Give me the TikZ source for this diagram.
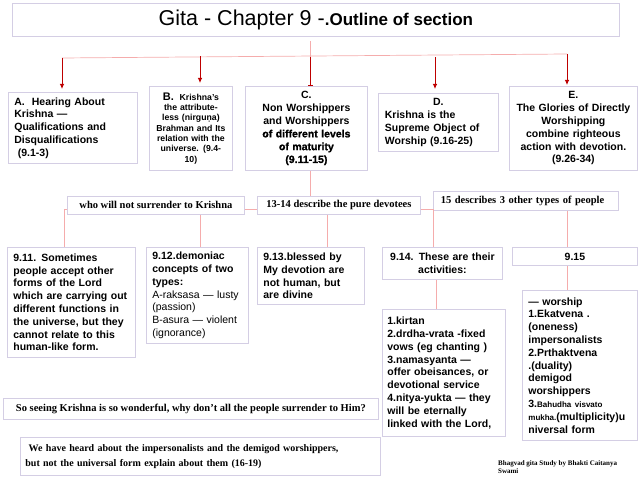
\documentclass[tikz,border=0pt]{standalone}
\usepackage{fontspec}
\setmainfont{Liberation Serif}
\setsansfont{Liberation Sans}
\newfontface\heavysans{Liberation Sans Bold}[FakeBold=1.2]
\usetikzlibrary{arrows.meta, positioning}

\definecolor{boxline}{RGB}{212,206,228}
\definecolor{linkred}{RGB}{245,172,172}
\definecolor{arrowred}{RGB}{190,0,0}

\tikzset{
  sbox/.style={draw=boxline, line width=0.8pt, fill=white, anchor=north west,
    inner xsep=6pt, inner ysep=1pt, font=\sffamily\bfseries\fontsize{10.5}{12.8}\selectfont},
  rbox/.style={draw=boxline, line width=0.8pt, fill=white, anchor=north west,
    inner xsep=6pt, inner ysep=1pt, font=\rmfamily\bfseries\fontsize{10.5}{13}\selectfont},
  link/.style={linkred, line width=0.7pt},
  pointer/.style={arrowred, line width=0.8pt, -{Latex[length=5pt,width=4.5pt]}},
}

\begin{document}
\begin{tikzpicture}[x=1pt, y=-1pt]
  \useasboundingbox (0,0) rectangle (638,478);

  % Title
  \node[sbox, font=\sffamily, minimum width=607pt, minimum height=33pt, inner sep=0pt] (title) at (12,3)
    {{\fontsize{21.5}{24}\selectfont Gita - Chapter 9 -}{\fontsize{17}{20}\selectfont\bfseries .Outline of section}};

  % First row of sections
  \node[sbox, text width=117pt, minimum height=71pt, align=left] (A) at (8,92)
    {A.\ \ Hearing About\\ Krishna —\\ Qualifications and\\ Disqualifications\\ \ (9.1-3)};
  \node[sbox, text width=73pt, minimum height=84pt, inner xsep=5pt, align=center,
    font=\sffamily\bfseries\fontsize{8.7}{10.3}\selectfont] (B) at (149,86)
    {{\fontsize{11}{12}\selectfont B.}\ \ Krishna's\\ the attribute-\\ less (nirguṇa)\\ Brahman and Its\\ relation with the\\ universe. (9.4-\\ 10)};
  \node[sbox, text width=110pt, minimum height=84pt, align=center] (C) at (245,86)
    {C.\\ Non Worshippers\\ and Worshippers\\ {\heavysans of different levels}\\ {\heavysans of maturity}\\ {\heavysans (9.11-15)}};
  \node[sbox, text width=107pt, minimum height=58pt, align=left, inner xsep=6.5pt] (D) at (378,93)
    {\makebox[\linewidth]{D.}\\ Krishna is the\\ Supreme Object of\\ Worship (9.16-25)};
  \node[sbox, text width=118pt, minimum height=84pt, inner xsep=5pt, align=center] (E) at (509,86)
    {E.\\ The Glories of Directly\\ Worshipping\\ combine righteous\\ action with devotion.\\ (9.26-34)};

  % Second row
  \node[rbox, minimum width=177pt, minimum height=18pt] (who) at (67,196) {who will not surrender to Krishna};
  \node[rbox, minimum width=163pt, minimum height=18pt] (pd) at (257,196) {13-14 describe the pure devotees};
  \node[rbox, text width=170pt, minimum height=19pt, inner xsep=7.5pt, align=left] (t15) at (433,191)
    {15 describes 3 other types of people};

  % Third row
  \node[sbox, text width=116pt, minimum height=110pt, align=left] (s11) at (7,247)
    {9.11. Sometimes\\ people accept other\\ forms of the Lord\\ which are carrying out\\ different functions in\\ the universe, but they\\ cannot relate to this\\ human-like form.};
  \node[sbox, text width=90pt, minimum height=96pt, align=left] (s12) at (146,247)
    {9.12.demoniac\\ concepts of two\\ types:\\ {\mdseries A-raksasa — lusty}\\ {\mdseries (passion)}\\ {\mdseries B-asura — violent}\\ {\mdseries (ignorance)}};
  \node[sbox, text width=95pt, minimum height=57pt, align=left] (s13) at (257,247)
    {9.13.blessed by\\ My devotion are\\ not human, but\\ are divine};
  \node[sbox, text width=108pt, minimum height=32pt, align=center] (s14) at (382,247)
    {9.14. These are their\\ activities:};
  \node[sbox, text width=113pt, minimum height=18pt, align=center] (s15) at (512,247) {9.15};
  \node[sbox, text width=113pt, minimum height=127pt, inner xsep=5pt, align=left] (act) at (382,309)
    {1.kirtan\\ 2.drdha-vrata -fixed\\ vows (eg chanting )\\ 3.namasyanta —\\ offer obeisances, or\\ devotional service\\ 4.nitya-yukta — they\\ will be eternally\\ linked with the Lord,};
  \node[sbox, text width=103pt, minimum height=150pt, align=left] (wor) at (522,290)
    {— worship\\ 1.Ekatvena .\\ (oneness)\\ impersonalists\\ 2.Prthaktvena\\ .(duality)\\ demigod\\ worshippers\\ 3.{\fontsize{8}{10}\selectfont Bahudha visvato}\\ {\fontsize{8}{10}\selectfont mukha.}(multiplicity)u\\ niversal form};

  % Questions at the bottom
  \node[rbox, minimum width=375pt, minimum height=21pt] (ask) at (3,398)
    {So seeing Krishna is so wonderful, why don’t all the people surrender to Him?};
  \node[rbox, text width=350pt, minimum height=38pt, inner xsep=5pt, align=left,
    font=\rmfamily\bfseries\fontsize{10}{15}\selectfont] (heard) at (20,437)
    {\ We have heard about the impersonalists and the demigod worshippers,\\ but not the universal form explain about them (16-19)};

  % Footer
  \node[anchor=north west, inner sep=0pt, align=left, font=\rmfamily\bfseries\fontsize{7}{8.5}\selectfont] (foot) at (498,460)
    {Bhagvad gita Study by Bhakti Caitanya\\ Swami};

  % Connectors from the title
  \coordinate (hubL) at (62,58);
  \coordinate (hubR) at (567,54);
  \coordinate (pB) at (200,56.5);
  \coordinate (pC) at (310,57);
  \coordinate (pD) at (435,57.5);
  \draw[link, shorten <=4pt] (pC |- title.south) -- (pC);
  \draw[link] (hubL) -- (hubR);
  \draw[pointer, shorten >=3pt] (hubL) -- (hubL |- A.north);
  \draw[pointer, shorten >=3pt] (pB) -- (pB |- B.north);
  \draw[arrowred, line width=0.8pt, -{Bar[width=5pt]}] (pC) -- (pC |- C.north);
  \draw[pointer, shorten >=4pt] (pD) -- (pD |- D.north);
  \draw[pointer, shorten >=1pt] (hubR) -- (hubR |- E.north);

  % Connectors between the rows
  \coordinate (jL) at (64,209);
  \coordinate (x12) at (200,0);
  \coordinate (x13) at (327,0);
  \coordinate (x14) at (436,0);
  \coordinate (x15) at (567,0);
  \draw[link] (C.south -| pC) -- (pC |- pd.north);
  \draw[link] (jL) -- (jL -| who.west);
  \draw[link] (jL) -- (jL |- s11.north);
  \draw[link] (jL -| who.east) -- (jL -| pd.west);
  \draw[link] (jL -| pd.east) -- (jL -| t15.west);
  \draw[link] (jL -| t15.west) -- (t15.west |- s14.north);
  \draw[link] (who.south -| x12) -- (x12 |- s12.north);
  \draw[link] (pd.south -| x13) -- (x13 |- s13.north);
  \draw[link] (t15.south -| x15) -- (x15 |- s15.north);
  \draw[link] (s14.south -| x14) -- (x14 |- act.north);
  \draw[link] (s15.south -| x15) -- (x15 |- wor.north);
\end{tikzpicture}
\end{document}
